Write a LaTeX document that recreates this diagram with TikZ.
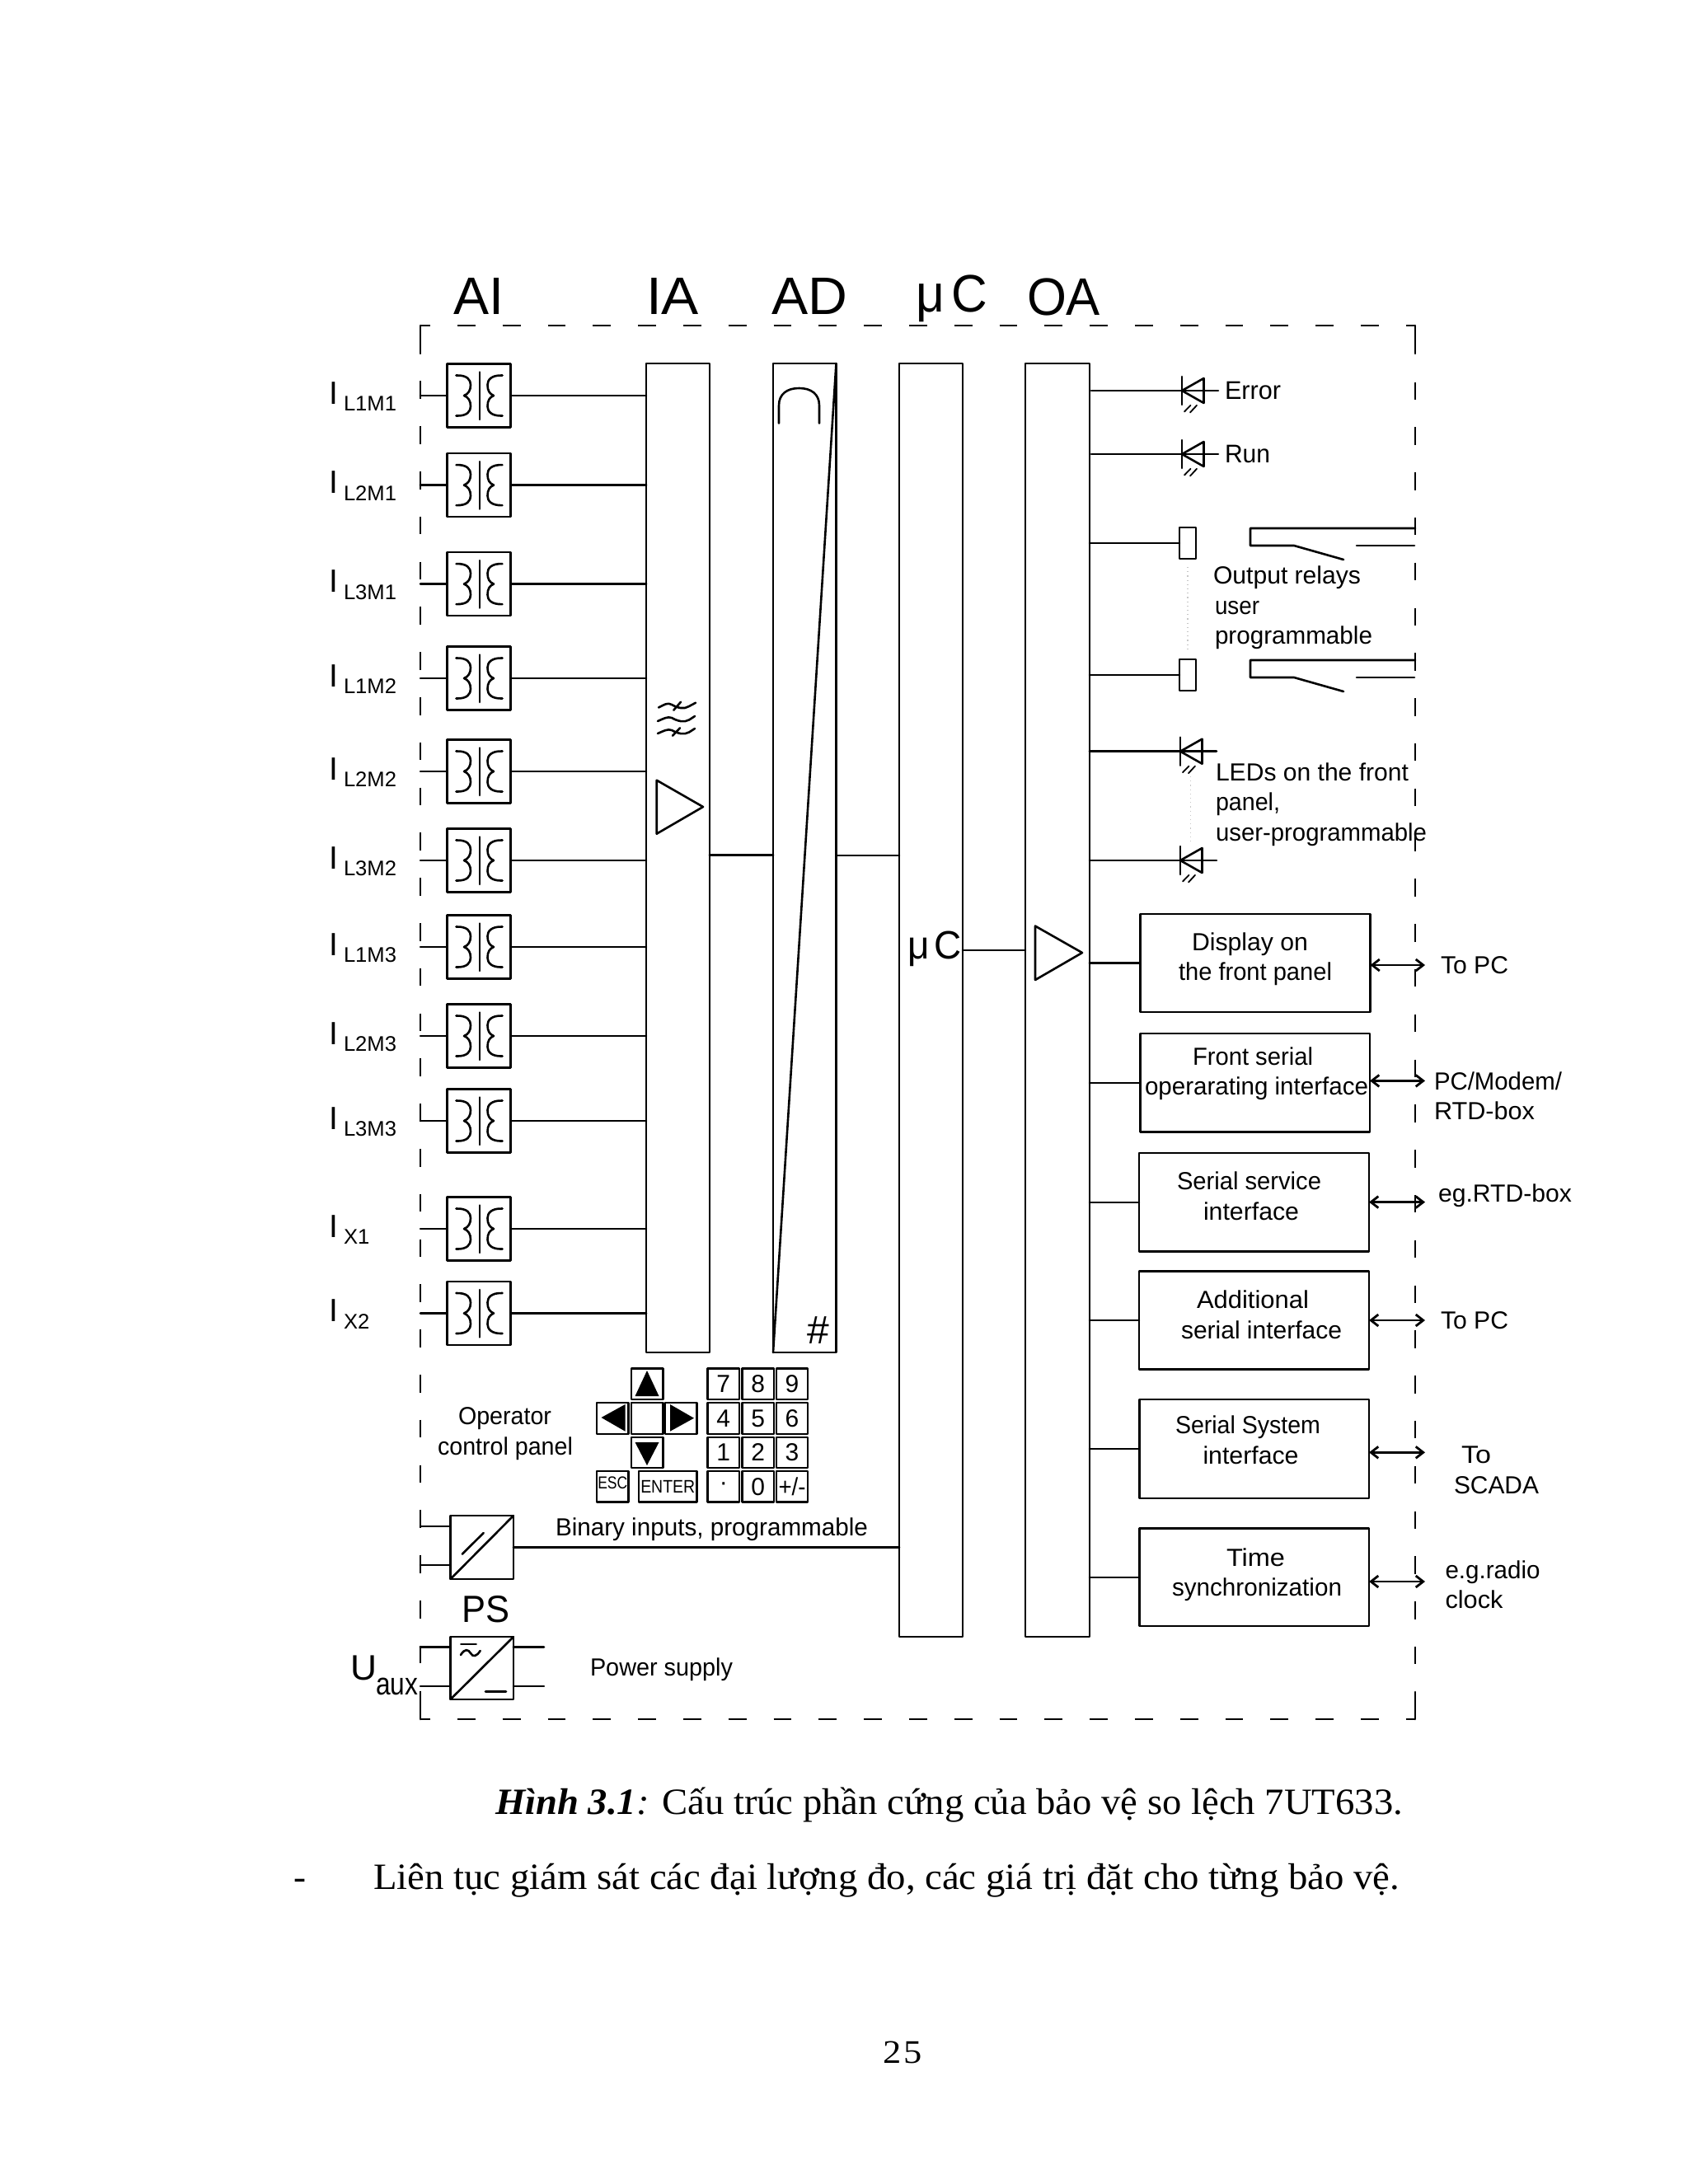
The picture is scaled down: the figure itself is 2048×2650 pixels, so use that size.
\documentclass[tikz,border=0pt]{standalone}
\usepackage{fontspec}
\usepackage{graphicx}
\usetikzlibrary{arrows.meta,calc}
\setmainfont{Liberation Sans}
\newfontfamily\capfont{Liberation Serif}
\newlength\pxu
\setlength\pxu{0.5pt}
\tikzset{
  ln/.style={line width=1.3pt,line cap=round,line join=round},
  blk/.style={draw,line width=1.3pt,line join=round,inner sep=0pt,outer sep=0pt,fill=white},
  lbl/.style={anchor=base west,inner sep=0pt,outer sep=0pt},
  twoway/.style={line width=1.4pt,{Straight Barb[length=4.5pt,width=7pt]}-{Straight Barb[length=4.5pt,width=7pt]}},
  faint/.style={line width=0.6pt,dotted,black!22}
}
% corner-given box
\newcommand{\blk}[6]{\node[blk,minimum width={(#4-#2)*0.5pt},minimum height={(#5-#3)*0.5pt},font=\fontsize{15}{15}\selectfont] (#1) at ({(#2+#4)/2},{(#3+#5)/2}) {#6};}
% fitted label: name, x, baseline, width px, size pt, text
\newcommand{\lab}[6]{\node[lbl,font=\fontsize{#5}{#5}\selectfont] (#1) at (#2,#3) {\resizebox{#4\pxu}{\height}{#6}};}
% led: name, bar x, wire y
\newcommand{\ledsym}[3]{%
  \coordinate (#1) at (#2,#3);
  \draw[ln] ($(#1)+(0,-17)$) -- ($(#1)+(0,17)$);
  \draw[ln] (#1) -- ($(#1)+(26.5,-15)$) -- ($(#1)+(26.5,15)$) -- cycle;
  \draw[ln,line width=0.9pt] ($(#1)+(3,25.5)$) -- ($(#1)+(10.5,17.8)$);
  \draw[ln,line width=0.9pt] ($(#1)+(10,26.5)$) -- ($(#1)+(18,17.8)$);
}
\begin{document}
\begin{tikzpicture}[x=0.5pt,y=-0.5pt]
\useasboundingbox (0,0) rectangle (2048,2650);
\fill[white] (0,0) rectangle (2048,2650);

% ---------- frame
\coordinate (tl) at (510,395);
\coordinate (tr) at (1717,395);
\coordinate (bl) at (510,2086);
\coordinate (br) at (1717,2086);
\draw[ln,line cap=butt,dash pattern=on 10.95pt off 16.45pt,dash phase=4.95pt] (tl) -- (tr);
\draw[ln,line cap=butt,dash pattern=on 10.95pt off 16.45pt,dash phase=4.95pt] (bl) -- (br);
\draw[ln] (tl) -- (510,429);
\draw[ln,line cap=butt,dash pattern=on 10.75pt off 16.65pt] (510,462.4) -- (510,2053);
\draw[ln] (510,2053) -- (bl);
\draw[ln] (tr) -- (1717,429);
\draw[ln,line cap=butt,dash pattern=on 10.75pt off 16.65pt] (1717,463.5) -- (1717,2053);
\draw[ln] (1717,2053) -- (br);

% ---------- column headings
\lab{hAI}{550}{381.5}{61}{32}{AI}
\lab{hIA}{784}{381.5}{64}{32}{IA}
\lab{hAD}{936}{381.5}{92}{32}{AD}
\lab{hUC}{1111}{378.5}{87}{32}{μ\kern0.14em C}
\lab{hOA}{1246}{382}{89}{32}{OA}

% ---------- main bars
\blk{ia}{784}{441}{861}{1641}{}
\blk{ad}{938}{441}{1014.5}{1641}{}
\blk{uc}{1091}{441}{1168}{1986}{}
\blk{oa}{1244}{441}{1322}{1986}{}
\draw[ln] (ad.north east) -- (ad.south west);
\draw[ln] (945,513.5) -- (945,492) .. controls (945,478) and (955,471) .. (969.5,471) .. controls (984,471) and (994,478) .. (994,492) -- (994,513.5);
\node[lbl,font=\fontsize{24}{24}\selectfont] (hash) at (979,1630) {\#};
\draw[ln] (ia.east |- 0,1037.5) -- (ad.west |- 0,1037.5);
\draw[ln] (ad.east |- 0,1038) -- (uc.west |- 0,1038);

% filter and amplifier in IA
\draw[ln] (799,858.5) .. controls (806,855) and (810,852) .. (815,855) .. controls (822,859) and (830,861) .. (836,857) -- (844,852.7);
\draw[ln] (826,851.7) -- (817.3,861.7);
\draw[ln] (798,875) .. controls (805,872) and (810,869) .. (815,871) .. controls (822,875) and (830,877) .. (836,873.5) -- (843,869);
\draw[ln] (798,890) .. controls (805,887) and (810,884) .. (815,886) .. controls (822,890) and (830,892) .. (836,888.5) -- (843,884);
\draw[ln] (825,883.3) -- (816,892.7);
\draw[ln] (796.7,946.7) -- (853,979) -- (796.7,1011.7) -- cycle;

% ---------- analog inputs
\foreach \n/\y/\s in {a/480/L1M1,b/588.6/L2M1,c/708.6/L3M1,d/823/L1M2,e/936/L2M2,f/1044/L3M2,g/1149/L1M3,h/1257/L2M3,i/1360/L3M3,j/1491/X1,k/1593.5/X2}{
  \node[blk,minimum size=38.5pt] (ct\n) at (581,\y) {};
  \coordinate (in\n) at (510,\y);
  \draw[ln] (in\n) -- (ct\n.west);
  \draw[ln] (ct\n.east) -- (ct\n.east -| ia.west);
  \begin{scope}[shift={(581,\y)}]
    \draw[ln] (-27.5,-24.5) .. controls (-14,-25) and (-10,-19) .. (-10,-13) .. controls (-10,-6) and (-13,-2) .. (-18,0) .. controls (-13,2) and (-10,6) .. (-10,13) .. controls (-10,19) and (-14,25) .. (-27.5,24.5);
    \draw[ln] (28.5,-24.5) .. controls (15,-25) and (10.5,-19) .. (10.5,-13) .. controls (10.5,-6) and (13,-2) .. (18,0) .. controls (13,2) and (10.5,6) .. (10.5,13) .. controls (10.5,19) and (15,25) .. (28.5,24.5);
    \draw[ln] (1,-28.5) -- (1,29);
  \end{scope}
  \node[lbl,font=\fontsize{19.5}{19.5}\selectfont] (I\n) at (399.5,{\y+10}) {I};
  \node[lbl,font=\fontsize{12.8}{12.8}\selectfont] (S\n) at (417,{\y+18.5}) {\s};
}

% ---------- keypad
\blk{kU}{766}{1660.7}{804.5}{1698}{}
\blk{kL}{724}{1702}{762.5}{1740}{}
\blk{kC}{766}{1702}{804.5}{1740}{}
\blk{kR}{807}{1702}{845.5}{1740}{}
\blk{kD}{766}{1744}{804.5}{1781}{}
\fill (785,1663) -- (770.5,1694) -- (799.5,1694) -- cycle;
\fill (729.5,1720) -- (758.5,1704) -- (758.5,1736.7) -- cycle;
\fill (842,1720.7) -- (813,1704) -- (813,1736.7) -- cycle;
\fill (785,1778) -- (770.5,1750) -- (799.5,1750) -- cycle;
\blk{k7}{858.5}{1660.7}{897}{1698}{7}
\blk{k8}{900.4}{1660.7}{939}{1698}{8}
\blk{k9}{942}{1660.7}{980}{1698}{9}
\blk{k4}{858.5}{1702}{897}{1740}{4}
\blk{k5}{900.4}{1702}{939}{1740}{5}
\blk{k6}{942}{1702}{980}{1740}{6}
\blk{k1}{858.5}{1744}{897}{1781}{1}
\blk{k2}{900.4}{1744}{939}{1781}{2}
\blk{k3}{942}{1744}{980}{1781}{3}
\blk{kdot}{858.5}{1785}{897}{1822.7}{\raisebox{-0.25ex}{·}}
\blk{k0}{900.4}{1785}{939}{1822.7}{0}
\blk{kpm}{942}{1785}{980}{1822.7}{\resizebox{33\pxu}{\height}{+/-}}
\blk{kesc}{724}{1785}{762.5}{1822.7}{\raisebox{0.6ex}{\resizebox{36\pxu}{\height}{\fontsize{10.5}{10.5}\selectfont ESC}}}
\blk{kent}{775}{1785}{845.5}{1822.7}{\resizebox{66\pxu}{\height}{\fontsize{11}{11}\selectfont ENTER}}
\lab{op1}{556}{1728}{113}{15}{Operator}
\lab{op2}{531}{1765}{164}{15}{control panel}

% ---------- binary inputs
\blk{bin}{546.5}{1839}{623}{1916}{}
\coordinate (b1) at (510,1852);
\coordinate (b2) at (510,1899);
\draw[ln] (b1) -- (b1 -| bin.west);
\draw[ln] (b2) -- (b2 -| bin.west);
\draw[ln] (bin.south west) -- (bin.north east);
\draw[ln] (560.7,1885.7) -- (586.7,1860);
\draw[ln] (bin.east) -- (bin.east -| uc.west);
\lab{binl}{674}{1863}{379}{15}{Binary inputs, programmable}

% ---------- power supply
\lab{ps}{560}{1968}{58}{23}{PS}
\blk{psb}{546.5}{1986}{623}{2062}{}
\coordinate (p1) at (510,1998.5);
\coordinate (p2) at (510,2046);
\coordinate (p3) at (660,1998.5);
\coordinate (p4) at (660,2046);
\draw[ln] (p1) -- (p1 -| psb.west);
\draw[ln] (p2) -- (p2 -| psb.west);
\draw[ln] (p3 -| psb.east) -- (p3);
\draw[ln] (p4 -| psb.east) -- (p4);
\draw[ln] (psb.south west) -- (psb.north east);
\draw[ln] (559.3,1995) -- (577.7,1995);
\draw[ln] (559,2008) .. controls (564,2000) and (568,2001) .. (571,2006) .. controls (574,2011) and (578,2010) .. (582.7,2003);
\draw[ln] (589,2052.7) -- (614,2052.7);
\lab{ua}{425}{2038.5}{32}{21.5}{U}
\lab{ub}{456}{2056.7}{51}{19}{aux}
\lab{pwr}{716}{2033}{173}{15}{Power supply}

% ---------- OA outputs: LEDs
\coordinate (w1) at (1324,474);
\coordinate (w1e) at (1478,474);
\draw[ln] (w1) -- (w1e);
\ledsym{ld1}{1434}{474}
\coordinate (w2) at (1324,551);
\coordinate (w2e) at (1478,551);
\draw[ln] (w2) -- (w2e);
\ledsym{ld2}{1434}{551}
\lab{err}{1486}{484}{68}{15.5}{Error}
\lab{run}{1486}{561}{55}{15.5}{Run}

% relays
\blk{c1}{1431}{640}{1451}{678}{}
\blk{c2}{1431}{800}{1451}{838}{}
\draw[ln] (oa.east |- c1.west) -- (c1.west);
\draw[ln] (oa.east |- c2.west) -- (c2.west);
\foreach \n/\a in {a/641,b/801}{
  \draw[ln] (1717,\a) -- (1517,\a) -- (1517,{\a+21}) -- (1570,{\a+21}) -- (1630,{\a+38});
  \draw[ln] (1646,{\a+21}) -- (1716,{\a+21});
}
\draw[faint] (1441,688) -- (1441,788);
\lab{or1}{1472}{708}{179}{15}{Output relays}
\lab{or2}{1474}{745}{54}{15}{user}
\lab{or3}{1474}{781}{191}{15}{programmable}

% front LEDs
\coordinate (w3e) at (1476,911.7);
\coordinate (w4e) at (1476,1044);
\draw[ln] (w3e -| oa.east) -- (w3e);
\draw[ln] (w4e -| oa.east) -- (w4e);
\ledsym{ld3}{1432}{911.7}
\ledsym{ld4}{1432}{1044}
\draw[faint] (1444.6,942) -- (1444.6,1023);
\lab{le1}{1475}{947}{234}{15}{LEDs on the front}
\lab{le2}{1475}{983.6}{78}{15}{panel,}
\lab{le3}{1475}{1020.6}{256}{15}{user-programmable}

% amplifier and uC
\lab{uci}{1101}{1163}{66}{24}{μ\kern0.14em C}
\draw[ln] (uc.east |- 0,1153) -- (oa.west |- 0,1153);
\draw[ln] (1256,1123.6) -- (1313,1156) -- (1256,1189) -- cycle;

% interface boxes
\blk{b1x}{1383.3}{1109}{1662.5}{1228}{}
\blk{b2x}{1383.3}{1254}{1662}{1373.6}{}
\blk{b3x}{1382}{1399}{1661}{1518.6}{}
\blk{b4x}{1382}{1542.5}{1661}{1661.7}{}
\blk{b5x}{1382.6}{1698}{1661}{1818}{}
\blk{b6x}{1382.6}{1854.7}{1661}{1973}{}
\draw[ln] (oa.east |- 0,1168.6) -- (b1x.west |- 0,1168.6);
\draw[ln] (oa.east |- b2x.west) -- (b2x.west);
\draw[ln] (oa.east |- b3x.west) -- (b3x.west);
\draw[ln] (oa.east |- b4x.west) -- (b4x.west);
\draw[ln] (oa.east |- b5x.west) -- (b5x.west);
\draw[ln] (oa.east |- b6x.west) -- (b6x.west);
\coordinate (a1) at (1729,1171);
\coordinate (a2) at (1729,1311.4);
\coordinate (a3) at (1729,1458.6);
\coordinate (a4) at (1729,1602);
\coordinate (a5) at (1729,1762.3);
\coordinate (a6) at (1729,1919);
\draw[twoway] (a1 -| b1x.east) -- (a1);
\draw[twoway] (a2 -| b2x.east) -- (a2);
\draw[twoway] (a3 -| b3x.east) -- (a3);
\draw[twoway] (a4 -| b4x.east) -- (a4);
\draw[twoway] (a5 -| b5x.east) -- (a5);
\draw[twoway] (a6 -| b6x.east) -- (a6);

\lab{t11}{1446}{1153}{141}{15}{Display on}
\lab{t12}{1430}{1189}{186}{15}{the front panel}
\lab{o1}{1748}{1181.8}{82}{15}{To PC}
\lab{t21}{1447}{1292.5}{146}{15}{Front serial}
\lab{t22}{1389}{1328}{271}{15}{operarating interface}
\lab{o21}{1740}{1322}{155}{15}{PC/Modem/}
\lab{o22}{1740}{1358.6}{122}{15}{RTD-box}
\lab{t31}{1428}{1443.6}{175}{15}{Serial service}
\lab{t32}{1460}{1480}{116}{15}{interface}
\lab{o3}{1745}{1458.6}{162}{15}{eg.RTD-box}
\lab{t41}{1452}{1587.9}{136}{15}{Additional}
\lab{t42}{1433}{1624.6}{195}{15}{serial interface}
\lab{o4}{1748}{1612}{82}{15}{To PC}
\lab{t51}{1426}{1739}{176}{15}{Serial System}
\lab{t52}{1459.5}{1776}{116}{15}{interface}
\lab{o51}{1773}{1775.7}{36}{15}{To}
\lab{o52}{1764}{1812.3}{103}{15}{SCADA}
\lab{t61}{1488}{1900.7}{71}{15}{Time}
\lab{t62}{1422}{1936.7}{206}{15}{synchronization}
\lab{o61}{1753.5}{1915}{115}{15}{e.g.radio}
\lab{o62}{1753.5}{1951.7}{70}{15}{clock}

% ---------- page text
\node[lbl,font=\capfont\fontsize{22.5}{22.5}\selectfont] (cap) at (601,2201.7) {\resizebox{1101\pxu}{\height}{\textbf{\textit{Hình 3.1}}\textit{:} Cấu trúc phần cứng của bảo vệ so lệch 7UT633.}};
\node[lbl,font=\capfont\fontsize{22.5}{22.5}\selectfont] (dashm) at (356,2292.7) {-};
\node[lbl,font=\capfont\fontsize{22.5}{22.5}\selectfont] (para) at (453,2292.7) {\resizebox{1245\pxu}{\height}{Liên tục giám sát các đại lượng đo, các giá trị đặt cho từng bảo vệ.}};
\node[lbl,font=\capfont\fontsize{20}{20}\selectfont] (pg) at (1071,2503) {\resizebox{48\pxu}{\height}{2\kern0.08em 5}};
\end{tikzpicture}
\end{document}
